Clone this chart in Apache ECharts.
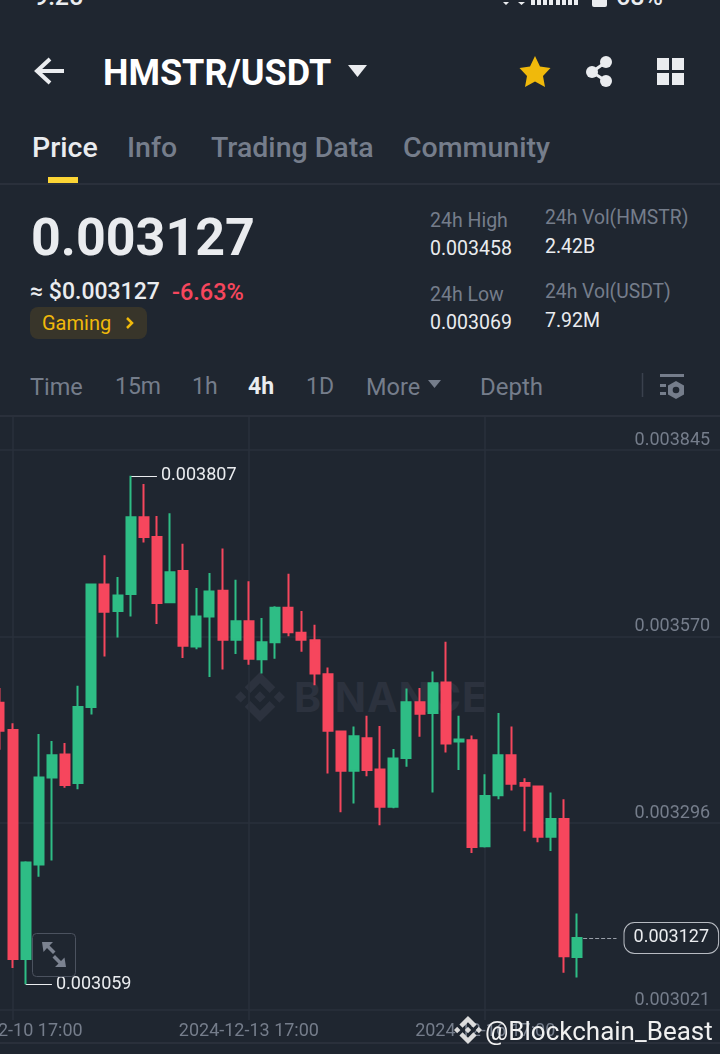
<!DOCTYPE html>
<html>
<head>
<meta charset="utf-8">
<title>HMSTR/USDT</title>
<script src="https://cdn.jsdelivr.net/npm/echarts@6/dist/echarts.min.js"></script>
<style>
  html, body { margin: 0; padding: 0; background: #1f2630; }
  body { width: 720px; height: 1054px; position: relative; overflow: hidden; font-family: Roboto, sans-serif; }
  #chart { position: absolute; left: 0; top: 417px; width: 720px; height: 637px; }
  .t { position: absolute; white-space: nowrap; line-height: 40px; height: 40px; margin-top: -20px; }
  .grey { color: #757d8b; }
  .white { color: #eaecef; }
  .rule { position: absolute; left: 0; width: 720px; height: 2px; background: #2a303b; }
  svg { position: absolute; overflow: visible; }
</style>
</head>
<body>
<!-- chart watermark sits under the transparent canvas -->
<svg style="left:235px;top:672px" width="50" height="50" viewBox="0 0 24 24">
  <path fill="#2c323e" d="M16.624 13.9202l2.7175 2.7154-7.353 7.353-7.353-7.352 2.7175-2.7164 4.6355 4.6595 4.6356-4.6595zm4.6366-4.6366L24 12l-2.7154 2.7164L18.5682 12l2.6924-2.7164zm-9.272.001l2.7163 2.6914-2.7164 2.7174v-.001L9.2721 12l2.7164-2.7154zm-9.2722-.001L5.4088 12l-2.6914 2.6924L0 12l2.7164-2.7164zM11.9885.0115l7.353 7.329-2.7174 2.7154-4.6356-4.6356-4.6355 4.6595-2.7174-2.7154 7.353-7.353z"/>
</svg>
<div class="t" style="left:294px;top:697px;font-family:Inter;font-size:41px;font-weight:700;letter-spacing:1px;color:#2c323e">BINANCE</div>

<div id="chart"></div>

<!-- status bar, mostly cut off by the top edge -->
<div class="t white" style="left:34px;top:-3px;font-size:25px;font-weight:500">9:25</div>
<div class="t white" style="left:616px;top:-3px;font-size:25px;font-weight:500">68%</div>
<svg style="left:0;top:0" width="720" height="10">
  <path d="M503 2h6l-3 3zM518 2h7l-3.500 3z" fill="#eaecef"/>
  <path d="M531 0h4v5h-4zM537 0h4v5h-4zM543 0h4v5h-4zM549 0h4v5h-4zM556 0h4v5h-4zM562 0h4v5h-4zM568 0h4v5h-4zM574 0h4v5h-4z" fill="#eaecef"/>
  <rect x="592" y="-4" width="15" height="11" rx="2" fill="#eaecef"/>
</svg>

<!-- top bar -->
<svg style="left:0;top:0" width="720" height="100">
  <path d="M64 71H38M50 59L37 71l13 12" fill="none" stroke="#eaecef" stroke-width="4"/>
  <path d="M348 65h19l-9.500 12z" fill="#eaecef"/>
  <path d="M535 56l5 10.500 10.500 1.500-7.500 8 2 11-10-5.500-10 5.500 2-11-7.500-8 10.500-1.500z" fill="#f0b90b"/>
  <g fill="#eaecef"><circle cx="606" cy="62" r="6"/><circle cx="592" cy="72" r="6"/><circle cx="606" cy="81" r="6"/></g>
  <path d="M606 62L592 72l14 9" fill="none" stroke="#eaecef" stroke-width="3"/>
  <path d="M657 58h12v12h-12zM672 58h12v12h-12zM657 73h12v12h-12zM672 73h12v12h-12z" fill="#eaecef"/>
</svg>
<div class="t" style="left:103px;top:73px;font-size:36px;font-weight:700;color:#fff">HMSTR/USDT</div>

<!-- tabs -->
<div class="t white" style="left:32px;top:148px;font-size:28.500px;font-weight:500">Price</div>
<div class="t grey" style="left:127px;top:148px;font-size:28.500px;font-weight:500">Info</div>
<div class="t grey" style="left:211px;top:148px;font-size:28.500px;font-weight:500">Trading Data</div>
<div class="t grey" style="left:403px;top:148px;font-size:28.500px;font-weight:500">Community</div>
<div style="position:absolute;left:48px;top:177px;width:30px;height:6px;background:#fcd535"></div>
<div class="rule" style="top:183px"></div>

<!-- price block -->
<div class="t" style="left:31px;top:238px;font-size:52px;font-weight:700;color:#eaecef">0.003127</div>
<div class="t white" style="left:30px;top:292px;font-size:23px;font-weight:500">≈ $0.003127</div>
<div class="t" style="left:172px;top:292px;font-size:23.500px;font-weight:500;color:#f6465d">-6.63%</div>
<div style="position:absolute;left:30px;top:307px;width:117px;height:32px;border-radius:8px;background:#38352a"></div>
<div class="t" style="left:42px;top:323px;font-size:20px;color:#f0b90b">Gaming</div>
<svg style="left:0;top:300px" width="150" height="50">
  <path d="M127 18l5 5-5 5" fill="none" stroke="#f0b90b" stroke-width="2.500"/>
</svg>

<div class="t grey" style="left:430px;top:221px;font-size:19.500px">24h High</div>
<div class="t white" style="left:430px;top:249px;font-size:19.500px">0.003458</div>
<div class="t grey" style="left:545px;top:218px;font-size:19.300px">24h Vol(HMSTR)</div>
<div class="t white" style="left:545px;top:247px;font-size:19.500px">2.42B</div>
<div class="t grey" style="left:430px;top:295px;font-size:19.500px">24h Low</div>
<div class="t white" style="left:430px;top:323px;font-size:19.500px">0.003069</div>
<div class="t grey" style="left:545px;top:292px;font-size:19.300px">24h Vol(USDT)</div>
<div class="t white" style="left:545px;top:321px;font-size:19.500px">7.92M</div>

<!-- interval row -->
<div class="t grey" style="left:30px;top:387px;font-size:23.500px">Time</div>
<div class="t grey" style="left:115px;top:387px;font-size:23px">15m</div>
<div class="t grey" style="left:192px;top:387px;font-size:23px">1h</div>
<div class="t white" style="left:248px;top:387px;font-size:23px;font-weight:700">4h</div>
<div class="t grey" style="left:306px;top:387px;font-size:23px">1D</div>
<div class="t grey" style="left:366px;top:387px;font-size:23.500px">More</div>
<div class="t grey" style="left:480px;top:387px;font-size:24px">Depth</div>
<svg style="left:0;top:360px" width="720" height="60">
  <path d="M428 20h13l-6.500 8z" fill="#757d8b"/>
  <path d="M642.500 13v24" stroke="#3a414d" stroke-width="1.500"/>
  <path d="M660 14h24v3h-24zM660 24h6v3h-6zM660 32h6v3h-6z" fill="#757d8b"/>
  <path d="M676 21l8 4.500v9l-8 4.500-8-4.500v-9z" fill="#757d8b"/>
  <circle cx="676" cy="30" r="3.300" fill="#1f2630"/>
</svg>
<div class="rule" style="top:415px"></div>
<div class="rule" style="top:1042px"></div>

<!-- expand button on the chart -->
<svg style="left:32px;top:933px" width="44" height="44">
  <rect x="0.500" y="0.500" width="43" height="43" rx="4" fill="rgba(31,38,48,0.6)" stroke="#4b525f"/>
  <path d="M10 9h11l-3.500 3.500 6 6-2.500 2.500-6-6L11.500 19zM34 34H23l3.500-3.500-6-6 2.500-2.500 6 6 3.500-3.500z" fill="#7b8290"/>
</svg>

<!-- repost watermark -->
<svg style="left:454px;top:1016px" width="28" height="28" viewBox="0 0 24 24">
  <path fill="#dcdcdc" d="M16.624 13.9202l2.7175 2.7154-7.353 7.353-7.353-7.352 2.7175-2.7164 4.6355 4.6595 4.6356-4.6595zm4.6366-4.6366L24 12l-2.7154 2.7164L18.5682 12l2.6924-2.7164zm-9.272.001l2.7163 2.6914-2.7164 2.7174v-.001L9.2721 12l2.7164-2.7154zm-9.2722-.001L5.4088 12l-2.6914 2.6924L0 12l2.7164-2.7164zM11.9885.0115l7.353 7.329-2.7174 2.7154-4.6356-4.6356-4.6355 4.6595-2.7174-2.7154 7.353-7.353z"/>
</svg>
<div class="t" style="left:485px;top:1031px;font-size:26px;color:#f0f0f0">@Blockchain_Beast</div>

<script>
// 4h candles, leftmost one is partly off the left edge
const startTime = Date.UTC(2024, 11, 10, 13)
const opens = [
  0.003473, 0.003433, 0.003096, 0.003235, 0.003363, 0.003397, 0.003355, 0.003467, 0.003647,
  0.003608, 0.003633, 0.003746, 0.003717, 0.003621, 0.003667, 0.003556, 0.003600, 0.003638,
  0.003566, 0.003593, 0.003537, 0.003562, 0.003613, 0.003576, 0.003565, 0.003515, 0.003431,
  0.003373, 0.003421, 0.003375, 0.003320, 0.003392, 0.003474, 0.003458, 0.003503, 0.003416,
  0.003418, 0.003262, 0.003337, 0.003396, 0.003355, 0.003350, 0.003276, 0.003302, 0.003099
]
const closes = [
  0.003432, 0.003096, 0.003238, 0.003363, 0.003396, 0.003352, 0.003467, 0.003647, 0.003607,
  0.003631, 0.003746, 0.003717, 0.003620, 0.003665, 0.003557, 0.003600, 0.003637, 0.003566,
  0.003593, 0.003538, 0.003562, 0.003613, 0.003577, 0.003566, 0.003516, 0.003432, 0.003373,
  0.003424, 0.003374, 0.003320, 0.003391, 0.003474, 0.003457, 0.003502, 0.003413, 0.003419,
  0.003261, 0.003336, 0.003396, 0.003354, 0.003351, 0.003276, 0.003302, 0.003100, 0.003127
]
const lows = [
  0.003404, 0.003083, 0.003059, 0.003217, 0.003241, 0.003348, 0.003346, 0.003456, 0.003541,
  0.003569, 0.003600, 0.003709, 0.003589, 0.003621, 0.003539, 0.003552, 0.003511, 0.003522,
  0.003545, 0.003529, 0.003516, 0.003538, 0.003571, 0.003548, 0.003499, 0.003369, 0.003312,
  0.003325, 0.003365, 0.003293, 0.003318, 0.003379, 0.003423, 0.003341, 0.003400, 0.003374,
  0.003252, 0.003260, 0.003331, 0.003344, 0.003284, 0.003268, 0.003255, 0.003076, 0.003069
]
const highs = [
  0.003495, 0.003443, 0.003240, 0.003427, 0.003417, 0.003414, 0.003498, 0.003648, 0.003690,
  0.003658, 0.003807, 0.003795, 0.003748, 0.003752, 0.003707, 0.003642, 0.003664, 0.003700,
  0.003654, 0.003652, 0.003598, 0.003615, 0.003663, 0.003608, 0.003588, 0.003525, 0.003431,
  0.003438, 0.003454, 0.003439, 0.003405, 0.003494, 0.003495, 0.003519, 0.003563, 0.003454,
  0.003425, 0.003368, 0.003458, 0.003438, 0.003362, 0.003351, 0.003341, 0.003331, 0.003163
]
const priceTicks = [0.003021, 0.003296, 0.00357, 0.003845]
const labelledCandles = [1, 19, 37]
const slotCount = 56 // candles plus the empty room on the right
const lastPrice = 0.003127
const highPrice = 0.003807
const lowPrice = 0.003059

const pad = n => String(n).padStart(2, '0')
const categories = Array.from({ length: slotCount }, (_, i) => {
  const d = new Date(startTime + i * 4 * 3600 * 1000)
  return `${d.getUTCFullYear()}-${pad(d.getUTCMonth() + 1)}-${pad(d.getUTCDate())} ${pad(d.getUTCHours())}:00`
})
const candles = opens.map((o, i) => [o, closes[i], lows[i], highs[i]])

const gridColor = '#2a303b'
const axisText = '#757d8b'
const tip = (x, price) => ({ coord: [x, price] })

const chart = echarts.init(document.getElementById('chart'))
chart.setOption({
  animation: false,
  backgroundColor: 'transparent',
  textStyle: { fontFamily: 'Roboto' },
  grid: { left: -7.16, top: 0, width: 735.28, height: 603, outerBoundsMode: 'none' },
  xAxis: {
    type: 'category',
    data: categories,
    axisLine: { show: false },
    axisTick: { show: false },
    splitLine: { show: false },
    axisLabel: {
      interval: i => labelledCandles.includes(i),
      hideOverlap: false,
      color: axisText,
      fontSize: 18,
      margin: 2
    }
  },
  yAxis: {
    type: 'value',
    position: 'right',
    min: 0.0030063,
    max: 0.0038936,
    axisLine: { show: false },
    axisTick: { show: false, customValues: priceTicks },
    splitLine: { show: true, lineStyle: { color: gridColor, width: 1.5 } },
    axisLabel: {
      customValues: priceTicks,
      inside: true,
      margin: 18,
      color: axisText,
      fontSize: 18,
      verticalAlign: 'bottom',
      padding: [0, 0, 1, 0],
      formatter: v => v.toFixed(6)
    }
  },
  series: [
    {
      type: 'candlestick',
      data: candles,
      barWidth: 9.5,
      itemStyle: {
        color: '#2ebd85',
        color0: '#f6465d',
        borderColor: '#2ebd85',
        borderColor0: '#f6465d',
        borderWidth: 2
      },
      markLine: {
        silent: true,
        z: 1,
        symbol: 'none',
        animation: false,
        data: [
          // vertical time lines
          ...labelledCandles.map(i => ({
            xAxis: i,
            lineStyle: { color: gridColor, width: 1.5, type: 'solid' },
            label: { show: false }
          })),
          // high / low callouts
          [
            {
              ...tip(10, highPrice),
              lineStyle: { color: '#eaecef', width: 1, type: 'solid' },
              label: { show: true, position: 'end', distance: 4, color: '#eaecef', fontSize: 18, formatter: highPrice.toFixed(6) }
            },
            tip(12, highPrice)
          ],
          [
            {
              ...tip(2, lowPrice),
              lineStyle: { color: '#eaecef', width: 1, type: 'solid' },
              label: { show: true, position: 'end', distance: 4, color: '#eaecef', fontSize: 18, formatter: lowPrice.toFixed(6) }
            },
            tip(4, lowPrice)
          ],
          // last price tag
          [
            {
              ...tip(44, lastPrice),
              lineStyle: { color: '#9aa0aa', width: 1, type: 'dashed' },
              label: {
                show: true,
                position: 'end',
                distance: 8,
                color: '#eaecef',
                fontSize: 18,
                backgroundColor: '#1f2630',
                borderColor: '#b7bbc2',
                borderWidth: 1,
                borderRadius: 10,
                padding: [6, 9],
                formatter: lastPrice.toFixed(6)
              }
            },
            tip(47, lastPrice)
          ]
        ]
      }
    }
  ]
})
</script>
</body>
</html>
